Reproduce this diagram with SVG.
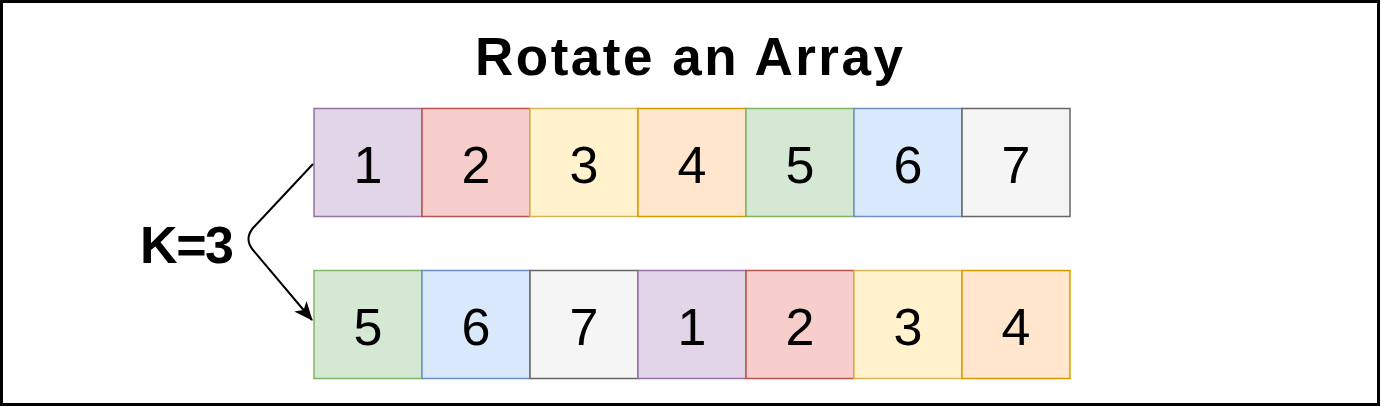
<svg xmlns="http://www.w3.org/2000/svg" width="1381" height="407" viewBox="0 0 1381 407">
<style>
.cell{stroke-width:1.5}
.num{font-family:"Liberation Sans",Arial,sans-serif;font-size:52px;fill:#000;text-anchor:middle}
.title{font-family:"Liberation Sans",Arial,sans-serif;font-size:53px;font-weight:bold;fill:#000;text-anchor:middle}
.k{font-family:"Liberation Sans",Arial,sans-serif;font-size:52px;font-weight:bold;fill:#000}
.purple{fill:#e1d5e7;stroke:#9673a6}
.red{fill:#f8cecc;stroke:#b85450}
.yellow{fill:#fff2cc;stroke:#d6b656}
.orange{fill:#ffe6cc;stroke:#d79b00}
.green{fill:#d5e8d4;stroke:#82b366}
.blue{fill:#dae8fc;stroke:#6c8ebf}
.gray{fill:#f5f5f5;stroke:#666666}
</style>
<defs>
<marker id="arrow" markerUnits="userSpaceOnUse" markerWidth="40" markerHeight="40" refX="0" refY="0" orient="auto" overflow="visible">
<path d="M-18,-8 L1,0 L-18,8 L-13,0 Z" fill="#000"/>
</marker>
</defs>
<rect x="1.5" y="1.5" width="1377" height="403" fill="#fff" stroke="#000" stroke-width="3"/>
<text class="title" x="689" y="75" textLength="428" lengthAdjust="spacing">Rotate an Array</text>
<g id="top-row">
<g id="t1"><rect class="cell purple" x="314" y="108.5" width="108" height="108"/><text class="num" x="368" y="183">1</text></g>
<g id="t2"><rect class="cell red" x="422" y="108.5" width="108" height="108"/><text class="num" x="476" y="183">2</text></g>
<g id="t3"><rect class="cell yellow" x="530" y="108.5" width="108" height="108"/><text class="num" x="584" y="183">3</text></g>
<g id="t4"><rect class="cell orange" x="638" y="108.5" width="108" height="108"/><text class="num" x="692" y="183">4</text></g>
<g id="t5"><rect class="cell green" x="746" y="108.5" width="108" height="108"/><text class="num" x="800" y="183">5</text></g>
<g id="t6"><rect class="cell blue" x="854" y="108.5" width="108" height="108"/><text class="num" x="908" y="183">6</text></g>
<g id="t7"><rect class="cell gray" x="962" y="108.5" width="108" height="108"/><text class="num" x="1016" y="183">7</text></g>
</g>
<g id="bottom-row">
<g id="b1"><rect class="cell green" x="314" y="270.5" width="108" height="108"/><text class="num" x="368" y="345">5</text></g>
<g id="b2"><rect class="cell blue" x="422" y="270.5" width="108" height="108"/><text class="num" x="476" y="345">6</text></g>
<g id="b3"><rect class="cell gray" x="530" y="270.5" width="108" height="108"/><text class="num" x="584" y="345">7</text></g>
<g id="b4"><rect class="cell purple" x="638" y="270.5" width="108" height="108"/><text class="num" x="692" y="345">1</text></g>
<g id="b5"><rect class="cell red" x="746" y="270.5" width="108" height="108"/><text class="num" x="800" y="345">2</text></g>
<g id="b6"><rect class="cell yellow" x="854" y="270.5" width="108" height="108"/><text class="num" x="908" y="345">3</text></g>
<g id="b7"><rect class="cell orange" x="962" y="270.5" width="108" height="108"/><text class="num" x="1016" y="345">4</text></g>
</g>
<g id="connectors">
<path d="M313,164 L253,228 Q244,239 253,250 L312,320" fill="none" stroke="#000" stroke-width="2" marker-end="url(#arrow)"/>
</g>
<text class="k" x="140" y="263" textLength="94" lengthAdjust="spacing">K=3</text>
</svg>
